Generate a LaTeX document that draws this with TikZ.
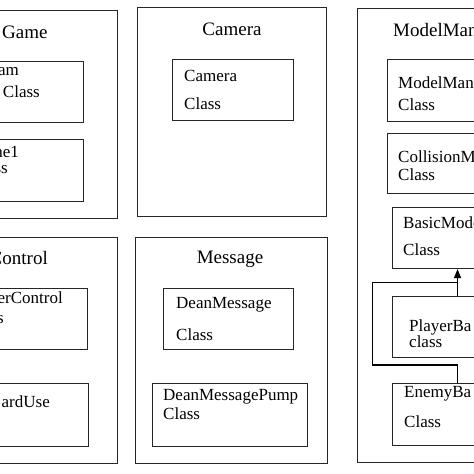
\documentclass[tikz,border=0pt]{standalone}
\usepackage{fontspec}
\setmainfont{Liberation Serif}
\usetikzlibrary{arrows.meta,calc}
\begin{document}
\begin{tikzpicture}[x=1pt,y=-1pt,
	panel/.style={draw=black!85,line width=1.1pt,anchor=north west,inner sep=0pt},
	classbox/.style={draw=black!85,line width=1.1pt,anchor=north west,inner sep=0pt},
	paneltitle/.style={font=\fontsize{19}{22}\selectfont,inner sep=0pt},
	classtext/.style={font=\fontsize{17}{20}\selectfont,inner sep=0pt,anchor=west}]
		\useasboundingbox[fill=white](0,0) rectangle (474,474);
		\clip(0,0) rectangle (474,474);
		
		% Game
		\node[panel,minimum width=177,minimum height=208](game) at (-60,10){};
		\node[paneltitle,anchor=west](gametitle) at (2,32){Game};
		\node[classbox,minimum width=143,minimum height=61](gamebox) at (-60,61){};
		\node[classtext,anchor=east](gamename) at (19,72){am};
		\node[classtext,anchor=east](gameclass) at (40,92){Class};
		\node[classbox,minimum width=143,minimum height=62](gameonebox) at (-60,139){};
		\node[classtext,anchor=east](gameonename) at (19,152){ne1};
		\node[classtext,anchor=east](gameoneclass) at (8,170){ss};
		
		% Camera
		\node[panel,minimum width=189,minimum height=209](camera) at (137,7){};
		\node[paneltitle](cameratitle) at (232,29){Camera};
		\node[classbox,minimum width=121,minimum height=61](camerabox) at (172,59){};
		\node[classtext](cameraname) at (184,76){Camera};
		\node[classtext](cameraclass) at (184,104){Class};
		
		% ModelManager
		\node[panel,minimum width=200,minimum height=454](model) at (357,8){};
		\node[paneltitle,anchor=west](modeltitle) at (393,30){ModelMan};
		\node[classbox,minimum width=150,minimum height=62](modelbox) at (387,59){};
		\node[classtext](modelname) at (398,83){ModelMan};
		\node[classtext](modelclass) at (398,105){Class};
		\node[classbox,minimum width=150,minimum height=60](collisionbox) at (387,133){};
		\node[classtext](collisionname) at (398,157){CollisionMa};
		\node[classtext](collisionclass) at (398,175){Class};
		\node[classbox,minimum width=130,minimum height=61](basicbox) at (392,207){};
		\node[classtext](basicname) at (403,223){BasicMode};
		\node[classtext](basicclass) at (403,250){Class};
		\node[classbox,minimum width=130,minimum height=61](playerbox) at (392,296){};
		\node[classtext](playername) at (409,327){PlayerBa};
		\node[classtext](playerclass) at (409,342){class};
		\node[classbox,minimum width=130,minimum height=62](enemybox) at (392,383){};
		\node[classtext](enemyname) at (404,394){EnemyBa};
		\node[classtext](enemyclass) at (404,422){Class};
		
		\coordinate(joint) at ($(playerbox.north)!0.5!(basicbox.south)$);
		\draw[line width=1.1pt,-{Triangle[width=7pt,length=9pt]}](playerbox.north)--(basicbox.south);
		\draw[line width=1.1pt](enemybox.north)--++(0,-18)-|([xshift=-85pt]joint)--(joint);
		
		% Control
		\node[panel,minimum width=177,minimum height=226](control) at (-60,237){};
		\node[paneltitle,anchor=east](controltitle) at (48,258){Control};
		\node[classbox,minimum width=147,minimum height=61](playerctrlbox) at (-60,288){};
		\node[classtext,anchor=east](playerctrlname) at (63,298){erControl};
		\node[classtext,anchor=east](playerctrlclass) at (4,320){s};
		\node[classbox,minimum width=148,minimum height=63](keyboardbox) at (-60,383){};
		\node[classtext,anchor=east](keyboardname) at (50,402){ardUse};
		
		% Message
		\node[panel,minimum width=192,minimum height=226](message) at (135,237){};
		\node[paneltitle](messagetitle) at (230,259){Message};
		\node[classbox,minimum width=130,minimum height=61](deanbox) at (163,288){};
		\node[classtext](deanname) at (176,305){DeanMessage};
		\node[classtext](deanclass) at (176,335){Class};
		\node[classbox,minimum width=155,minimum height=63](pumpbox) at (152,383){};
		\node[classtext](pumpname) at (163,397){DeanMessagePump};
		\node[classtext](pumpclass) at (163,414){Class};
\end{tikzpicture}
\end{document}
